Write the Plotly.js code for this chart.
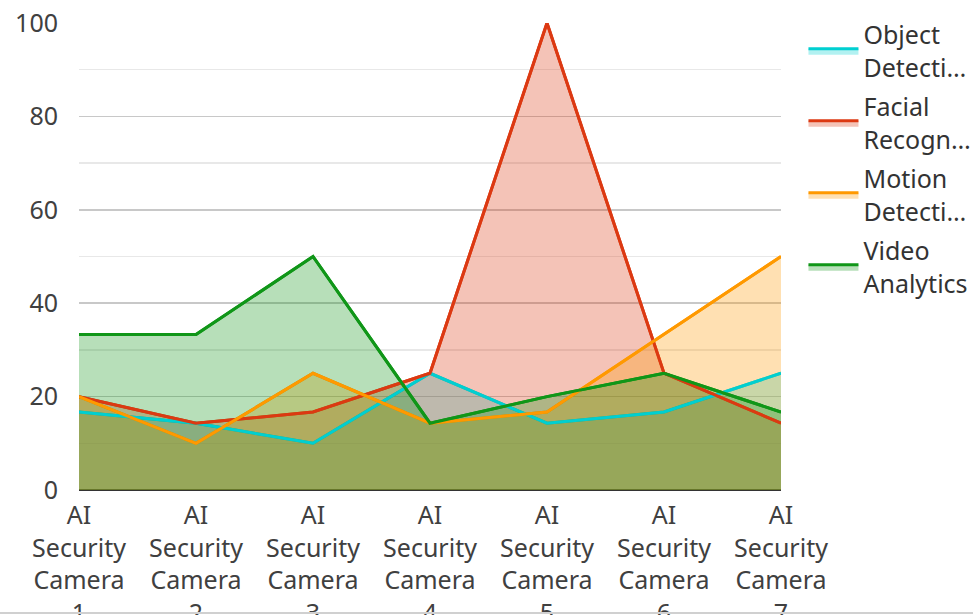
<!DOCTYPE html>
<html><head><meta charset="utf-8">
<script src="https://cdn.plot.ly/plotly-3.0.1.min.js"></script>
<style>body{margin:0;background:#fff}#chart{width:973px;height:615px}#bl{position:absolute;left:0;top:612px;width:973px;height:2px;background:#d0d0d0}</style>
</head><body><div id="chart"></div><div id="bl"></div>
<script>
const categories = ["AI<br>Security<br>Camera<br>1","AI<br>Security<br>Camera<br>2","AI<br>Security<br>Camera<br>3","AI<br>Security<br>Camera<br>4","AI<br>Security<br>Camera<br>5","AI<br>Security<br>Camera<br>6","AI<br>Security<br>Camera<br>7"];
const seriesNames = ["Object<br>Detecti…","Facial<br>Recogn…","Motion<br>Detecti…","Video<br>Analytics"];
const objectDetection = [16.7, 14.3, 10, 25, 14.3, 16.7, 25];
const facialRecognition = [20, 14.3, 16.7, 25, 100, 25, 14.3];
const motionDetection = [20, 10, 25, 14.3, 16.7, 33.3, 50];
const videoAnalytics = [33.3, 33.3, 50, 14.3, 20, 25, 16.7];
const lineColors = ["#00cfd1","#dc3912","#ff9900","#109618"];
const fillColors = ["rgba(0,207,209,0.3)","rgba(220,57,18,0.3)","rgba(255,153,0,0.3)","rgba(16,150,24,0.3)"];
const allSeries = [objectDetection, facialRecognition, motionDetection, videoAnalytics];
const xs = categories.map((c,i)=>i);
const fillTraces = allSeries.map((vals,i)=>({
  x: xs, y: vals, name: seriesNames[i], legendgroup:'g'+i, type:'scatter', mode:'lines',
  fill:'tozeroy', fillcolor: fillColors[i],
  line:{color: lineColors[i], width:3}, hoverinfo:'skip'
}));
const lineTraces = allSeries.map((vals,i)=>({
  x: xs, y: vals, name: seriesNames[i], legendgroup:'g'+i, showlegend:false, type:'scatter', mode:'lines',
  line:{color: lineColors[i], width:3}, hoverinfo:'skip'
}));
const layout = {
  width:973, height:615,
  margin:{l:79, r:192, t:23, b:125, autoexpand:false},
  paper_bgcolor:'#fff', plot_bgcolor:'#fff',
  font:{family:'Noto Sans, Open Sans, sans-serif', size:25, color:'#404040'},
  showlegend:true,
  legend:{x:1.032, xanchor:'left', y:1.024, yanchor:'top', itemwidth:50, font:{size:25, color:'#333'}, tracegroupgap:4},
  xaxis:{tickvals:xs, ticktext:categories, range:[0,6], showgrid:false, zeroline:false, showline:false, ticks:'', fixedrange:true, ticklabelstandoff:8},
  yaxis:{range:[0,100], tickvals:[0,20,40,60,80,100], showgrid:true, gridcolor:'#c8c8c8', gridwidth:1.5,
    minor:{dtick:10, showgrid:true, gridcolor:'#e8e8e8', gridwidth:1.5},
    zeroline:true, zerolinecolor:'#333', zerolinewidth:2, ticks:'', ticklen:0, showline:false, fixedrange:true, ticklabelstandoff:20}
};
Plotly.newPlot('chart', fillTraces.concat(lineTraces), layout, {displayModeBar:false, staticPlot:true});
</script></body></html>
